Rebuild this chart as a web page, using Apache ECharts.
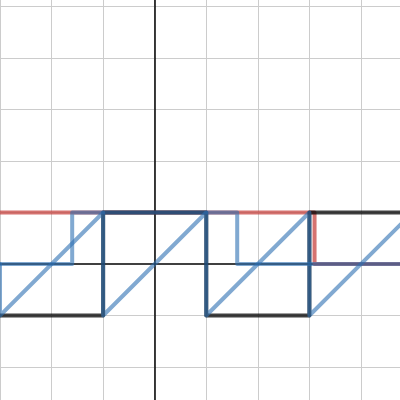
<!DOCTYPE html>
<html><head><meta charset="utf-8">
<script src="https://cdn.jsdelivr.net/npm/echarts@6/dist/echarts.min.js"></script>
<style>html,body{margin:0;padding:0;background:#fff}#c{width:400px;height:400px}</style>
</head><body><div id="c"></div>
<script>
const redX = [-3, -1.6, 1, 3.1, 3.1, 5];
const redY = [1, 1, 1, 1, 0, 0];
const blackX = [-3, -1, -1, 1, 1, 3, 3, 5];
const blackY = [-1, -1, 1, 1, -1, -1, 1, 1];
const sawX = [-3, -3, -1, -1, 1, 1, 3, 3, 5];
const sawY = [0, -1, 1, -1, 1, -1, 1, -1, 1];
const stepX = [-3, -1.6, -1.6, 1.6, 1.6, 5];
const stepY = [0, 0, 1, 1, 0, 0];
const yGrid = [-2, -1, 1, 2, 3, 4, 5];
const pts = (xs, ys) => xs.map((x, i) => [x, ys[i]]);
const mk = (d, color, z) => ({type:'line', data:d, showSymbol:false, z:z, silent:true, clip:true,
  lineStyle:{width:4, color:color, cap:'round', join:'round'}});
const chart = echarts.init(document.getElementById('c'));
const gridSeries = {type:'line', data:[], silent:true, z:0, zlevel:0,
  markLine:{symbol:'none', silent:true, z:0, label:{show:false}, animation:false,
    lineStyle:{color:'#ccc', type:'solid', width:1}, data:yGrid.map(v => ({yAxis:v}))}};
chart.setOption({
  animation:false,
  grid:{left:0, right:0, top:0, bottom:0},
  xAxis:{type:'value', min:-3, max:4.757, interval:1, axisLabel:{show:false}, axisTick:{show:false},
    axisLine:{onZero:true, lineStyle:{color:'#000', width:1.5}}, splitLine:{lineStyle:{color:'#ccc'}}},
  yAxis:{type:'value', min:-2.64, max:5.126, axisLabel:{show:false}, axisTick:{show:false},
    axisLine:{onZero:true, lineStyle:{color:'#000', width:1.5}}, splitLine:{show:false}},
  series:[
    gridSeries,
    mk(pts(redX, redY), 'rgba(199,68,64,0.75)', 2),
    mk(pts(blackX, blackY), 'rgba(0,0,0,0.75)', 3),
    mk(pts(sawX, sawY), 'rgba(45,112,179,0.6)', 4),
    mk(pts(stepX, stepY), 'rgba(45,112,179,0.6)', 5)
  ]
});
</script></body></html>
